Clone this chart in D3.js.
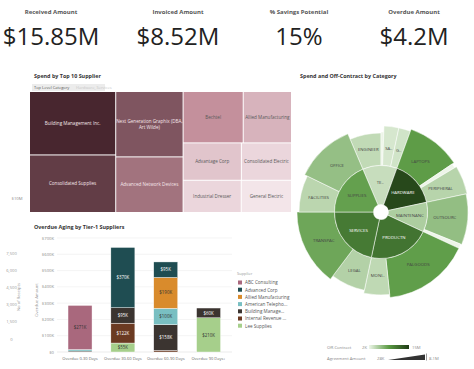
<!DOCTYPE html>
<html><head><meta charset="utf-8">
<script src="https://cdn.jsdelivr.net/npm/d3@7/dist/d3.min.js"></script>
<style>body{margin:0;background:#fff}svg{font-family:"Open Sans",sans-serif;display:block}</style>
</head><body><svg id="c" width="474" height="369"></svg>
<script>
// ---------- DATA ----------
const kpiLabels = ["Received Amount","Invoiced Amount","% Savings Potential","Overdue Amount"];
const kpiValues = ["$15.85M","$8.52M","15%","$4.2M"];

const treemapSuppliers = ["Building Management Inc.","Consolidated Supplies","Next Generation Graphix (DBA, Art Wilde)","Advanced Network Devices","Bechtel","Allied Manufacturing","Advantage Corp","Consolidated Electric","Industrial Dresser","General Electric"];
const treemapSpend = [5.4,4.9,4.35,3.7,3.05,2.45,2.15,1.85,1.85,1.6]; // $M

const agingBuckets = ["Overdue 0-30 Days","Overdue 30-60 Days","Overdue 60-90 Days","Overdue 90 Days+"];
const agingSuppliers = ["ABC Consulting","Advanced Corp","Allied Manufacturing","American Telepho...","Building Manage...","Internal Revenue ...","Lee Supplies"];
const agingValues = [ // $K per supplier, per bucket
  [271,0,0,0],
  [0,370,95,0],
  [0,0,190,0],
  [9,0,100,0],
  [6,95,158,60],
  [0,122,10,0],
  [0,55,0,210]
];
const overdueTicks = [0,100,200,300,400,500,600,700];
const receiptTicks = [0,1500,3000,4500,6000,7500];

const sunCategories = ["TE..","HARDWARE","MAINTENANC","PRODUCTN","SERVICES","SUPPLIES"];
const sunCategoryOff = [2.0,14,3.3,10.5,10,7.0]; // off-contract $M
const sunSubNames = [["ENGINEER","","SA..","G.."],["LAPTOPS","","PERIPHERAL"],["OUTSOURC",""],["PALGOODS","MONI.."],["LEGAL","TRANSPAC"],["FACILITIES","OFFICE"]];
const sunSubSpend = [[23,2,10,8],[36,3,19],[34,3],[59,18],[25,53],[26,41]];
const sunSubOff = [[2.3,0.05,1.2,1.5],[7.3,0.05,2.8],[4.6,0.05],[7.2,2.4],[3.0,6.5],[2.6,4.5]];
const sunSubAgreement = [[0.7,1.4,5.4,5.4],[6.8,5.4,6.8],[6.1,5.4],[5.4,3.4],[1.4,4.1],[2.7,4.7]]; // $M

// ---------- DRAW ----------
const svg = d3.select("#c");

// KPIs
const kpiXs = [51,178,299,414];
kpiLabels.forEach((l,i)=>{
  svg.append("text").attr("x",kpiXs[i]).attr("y",13.5).attr("text-anchor","middle")
    .attr("font-size",6).attr("font-weight","bold").attr("fill","#555").text(l);
  svg.append("text").attr("x",kpiXs[i]).attr("y",45).attr("text-anchor","middle")
    .attr("font-size",24).attr("fill","#222").text(kpiValues[i]);
});

// Titles
function title(x,y,t){svg.append("text").attr("x",x).attr("y",y).attr("font-size",5.4).attr("font-weight","bold").attr("fill","#333").text(t);}
title(34,78,"Spend by Top 10 Supplier");
title(34,229,"Overdue Aging by Tier-1 Suppliers");
title(300,78,"Spend and Off-Contract by Category");

// Treemap filter pill
svg.append("rect").attr("x",32).attr("y",84).attr("width",73).attr("height",7).attr("fill","#ececec");
svg.append("text").attr("x",34).attr("y",89.3).attr("font-size",4).attr("fill","#555").text("Top Level Category");
svg.append("text").attr("x",76).attr("y",89.3).attr("font-size",4).attr("fill","#c8c8c8").text("Hardware, Services");
svg.append("text").attr("x",17).attr("y",200).attr("text-anchor","middle").attr("font-size",4.2).attr("fill","#888").text("$10M");

// Treemap
const idx = [[0,1],[2,3],[[4,5],[6,7],[8,9]]];
function build(n){ return Array.isArray(n) ? {children:n.map(build)} : {name:treemapSuppliers[n], value:treemapSpend[n]}; }
const tmRoot = d3.hierarchy({children:idx.map(build)}).sum(d=>d.value||0);
d3.treemap().tile(d3.treemapSliceDice).size([261,120]).paddingInner(1)(tmRoot);
const tmColor = d3.scaleLinear().domain([1.6,3.05,5.4]).range(["#f3e5e9","#c4909c","#48262f"]);
const tm = svg.append("g").attr("transform","translate(30,92)");
tmRoot.leaves().forEach(d=>{
  tm.append("rect").attr("x",d.x0).attr("y",d.y0).attr("width",d.x1-d.x0).attr("height",d.y1-d.y0).attr("fill",tmColor(d.data.value));
  const lines = d.data.name.includes(", ") ? [d.data.name.split(", ")[0]+",", d.data.name.split(", ")[1]] : [d.data.name];
  const cx=(d.x0+d.x1)/2, cy=(d.y0+d.y1)/2;
  lines.forEach((ln,i)=>{
    tm.append("text").attr("x",cx).attr("y",cy+1.6+(i-(lines.length-1)/2)*5.6).attr("text-anchor","middle")
      .attr("font-size",4.6).attr("fill", d.data.value>3.3 ? "#f6e6ea" : "#5a5a5a").text(ln);
  });
});

// Bar chart
const x = d3.scaleBand().domain(agingBuckets).range([58.6,230]).paddingInner(0.44).paddingOuter(0.22);
const y = d3.scaleLinear().domain([0,700]).range([352,238]);
const yR = d3.scaleLinear().domain([0,7500]).range([339,253]);
const color = d3.scaleOrdinal().domain(agingSuppliers).range(["#a9687d","#1f4d52","#d98b2c","#79bfc2","#3b3430","#6b3a22","#a6cf8b"]);
overdueTicks.forEach(t=>{
  if(t>0) svg.append("line").attr("x1",57).attr("x2",232).attr("y1",y(t)).attr("y2",y(t)).attr("stroke","#ececec").attr("stroke-width",0.6);
  svg.append("text").attr("x",54).attr("y",y(t)+1.5).attr("text-anchor","end").attr("font-size",4.2).attr("fill","#888").text(t===0?"$0":"$"+t+"K");
});
svg.append("line").attr("x1",57).attr("x2",232).attr("y1",y(0)).attr("y2",y(0)).attr("stroke","#ddd").attr("stroke-width",0.6);
receiptTicks.forEach(t=>{
  svg.append("text").attr("x",11.5).attr("y",yR(t)+1.5).attr("text-anchor","middle").attr("font-size",4.2).attr("fill","#999").text(d3.format(",")(t));
});
svg.append("text").attr("transform","translate(19.5,297) rotate(-90)").attr("text-anchor","middle").attr("font-size",4.2).attr("fill","#999").text("No of Receipts");
svg.append("text").attr("transform","translate(38,300) rotate(-90)").attr("text-anchor","middle").attr("font-size",4.2).attr("fill","#999").text("Overdue Amount");

const rows = agingBuckets.map((b,j)=>{const o={bucket:b}; agingSuppliers.forEach((s,i)=>o[s]=agingValues[i][j]); return o;});
const series = d3.stack().keys(agingSuppliers.slice().reverse())(rows);
series.forEach(s=>{
  s.forEach(p=>{
    const v=p[1]-p[0]; if(v<=0) return;
    svg.append("rect").attr("x",x(p.data.bucket)).attr("y",y(p[1])).attr("width",x.bandwidth()).attr("height",y(p[0])-y(p[1]))
      .attr("fill",color(s.key)).attr("stroke","#fff").attr("stroke-width",0.4);
    if(v>=40){
      const c=d3.hsl(color(s.key));
      svg.append("text").attr("x",x(p.data.bucket)+x.bandwidth()/2).attr("y",(y(p[0])+y(p[1]))/2+1.6).attr("text-anchor","middle")
        .attr("font-size",4.4).attr("fill", c.l<0.45 ? "#fff" : "#333").text("$"+v+"K");
    }
  });
});
agingBuckets.forEach(b=>{
  svg.append("text").attr("x",x(b)+x.bandwidth()/2).attr("y",359.5).attr("text-anchor","middle").attr("font-size",4).attr("fill","#666").text(b);
});
svg.append("text").attr("x",237).attr("y",275).attr("font-size",4).attr("fill","#999").text("Supplier");
agingSuppliers.forEach((s,i)=>{
  const yy=280.5+i*7.2;
  svg.append("rect").attr("x",238).attr("y",yy).attr("width",4).attr("height",4).attr("fill",color(s));
  svg.append("text").attr("x",245).attr("y",yy+3.8).attr("font-size",4.6).attr("fill","#555").text(s);
});

// Sunburst
const sunData = {children: sunCategories.map((c,i)=>({name:c, off:sunCategoryOff[i],
  children: sunSubNames[i].map((n,j)=>({name:n, value:sunSubSpend[i][j], off:sunSubOff[i][j], agr:sunSubAgreement[i][j]}))}))};
const sRoot = d3.hierarchy(sunData).sum(d=>d.value||0);
d3.partition().size([2*Math.PI,3])(sRoot);
const offset = -23*Math.PI/180;
const green = d3.scaleLinear().domain([0.002,7.5,15]).range(["#eef6e9","#5a9a43","#1f3b15"]);
const rOuter = d3.scaleLinear().domain([0.028,8.1]).range([78,90]);
const arc = d3.arc()
  .startAngle(d=>d.x0+offset).endAngle(d=>d.x1+offset)
  .innerRadius(d=>d.depth===1?7.5:46.5)
  .outerRadius(d=>d.depth===1?46.5:rOuter(d.data.agr));
const sg = svg.append("g").attr("transform","translate(381,212)");
const nodes = sRoot.descendants().filter(d=>d.depth>0);
nodes.sort((a,b)=>b.depth-a.depth);
nodes.forEach(d=>{
  sg.append("path").attr("d",arc(d)).attr("fill",green(d.data.off)).attr("stroke","#fff").attr("stroke-width",0.5);
});
nodes.forEach(d=>{
  if(!d.data.name) return;
  const a=(d.x0+d.x1)/2+offset;
  const r = d.depth===1 ? 29 : 64;
  const c=d3.hsl(green(d.data.off));
  sg.append("text").attr("x",Math.sin(a)*r).attr("y",-Math.cos(a)*r+1.4).attr("text-anchor","middle")
    .attr("font-size",4.3).attr("fill", c.l<0.4 ? "#fff" : "#444").text(d.data.name);
});

// Sunburst legend
const defs = svg.append("defs");
const lg = defs.append("linearGradient").attr("id","g1");
lg.append("stop").attr("offset","0%").attr("stop-color",green(0.002));
lg.append("stop").attr("offset","50%").attr("stop-color",green(7.5));
lg.append("stop").attr("offset","100%").attr("stop-color",green(15));
svg.append("text").attr("x",327).attr("y",349).attr("font-size",4.2).attr("fill","#888").text("Off-Contract");
svg.append("text").attr("x",362).attr("y",349).attr("font-size",4.2).attr("fill","#888").text("2K");
svg.append("rect").attr("x",369).attr("y",345).attr("width",40).attr("height",4).attr("fill","url(#g1)");
svg.append("text").attr("x",412).attr("y",349).attr("font-size",4.2).attr("fill","#888").text("15M");
svg.append("text").attr("x",327).attr("y",360).attr("font-size",4.2).attr("fill","#888").text("Agreement Amount");
svg.append("text").attr("x",377).attr("y",360).attr("font-size",4.2).attr("fill","#888").text("28K");
svg.append("path").attr("d","M388,360 L425,360 L425,354.5 Z").attr("fill","#333");
svg.append("path").attr("d","M426.5,353.5 L426.5,360.5").attr("stroke","#555").attr("stroke-width",0.6);
svg.append("text").attr("x",429).attr("y",360).attr("font-size",4.2).attr("fill","#888").text("8.1M");
</script></body></html>
